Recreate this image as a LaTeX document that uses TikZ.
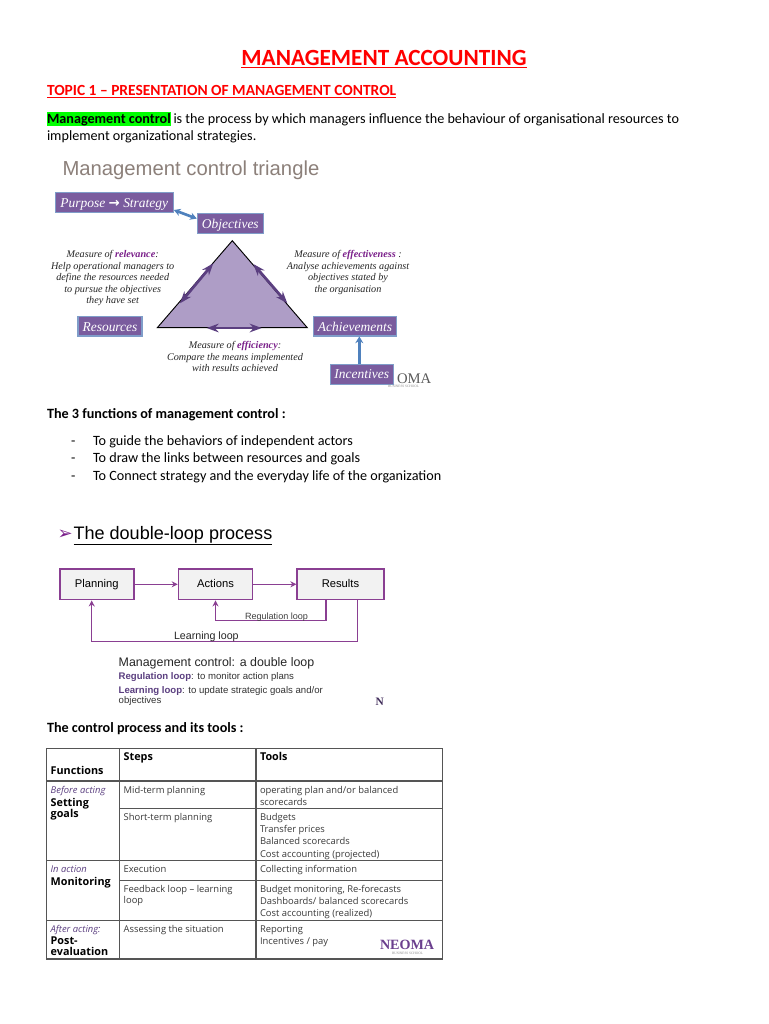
\documentclass[tikz,border=0pt]{standalone}
\usepackage{fontspec}
\setmainfont{Carlito}
\newfontfamily\seriff{Liberation Serif}
\newfontfamily\arialf{Liberation Sans}
\newfontfamily\tabf{Open Sans}
\newfontfamily\symf{DejaVu Sans}
\usetikzlibrary{arrows.meta}
\definecolor{pbox}{HTML}{7A5C9E}
\definecolor{pborder}{HTML}{7F9DC9}
\definecolor{tri}{HTML}{AE9DC6}
\definecolor{darkp}{HTML}{5B3F80}
\definecolor{mag}{HTML}{7A1F8A}
\definecolor{blueA}{HTML}{4F81BD}
\definecolor{loopc}{HTML}{8A3F92}
\definecolor{boxg}{HTML}{F2F2F2}
\definecolor{neo}{HTML}{6B3F8E}
\definecolor{gtitle}{HTML}{8C807A}
\definecolor{tabl}{HTML}{555555}
\definecolor{tabt}{HTML}{3A3A3A}
\newcommand{\rel}[1]{{\bfseries\color{mag}#1}}
\newcommand{\tl}[4]{\node[#1] (#2) at (#3) {#4};}
\tikzset{
 x=0.75pt,y=-0.75pt,
 lft/.style={anchor=base west,inner sep=0pt,outer sep=0pt},
 body/.style={lft,font=\fontsize{10.63}{12}\selectfont,text=black},
 tab/.style={lft,font=\tabf\fontsize{7.05}{8}\selectfont,text=tabt},
 tabb/.style={lft,font=\tabf\bfseries\fontsize{8.1}{9}\selectfont,text=black},
 tabi/.style={lft,font=\tabf\itshape\fontsize{7.05}{8}\selectfont,text=darkp},
 pbx/.style={fill=pbox,draw=pborder,line width=0.8pt,text=white,inner sep=0pt,text height=8pt,text depth=0.9pt,font=\seriff\itshape\fontsize{10.1}{11}\selectfont},
 meas/.style={inner sep=0pt,align=center,text=black!85,font=\seriff\itshape\fontsize{7.65}{8.7}\selectfont},
 dbl/.style={line width=2pt,draw=darkp,{Stealth[length=9pt,width=6.5pt]}-{Stealth[length=9pt,width=6.5pt]}},
 plb/.style={fill=boxg,draw=loopc,line width=1.2pt,inner sep=0pt,text height=6pt,text depth=1.6pt,font=\arialf\fontsize{8.4}{10}\selectfont},
 lp/.style={draw=loopc,line width=0.9pt,-{Stealth[length=4.5pt,width=4.5pt]}},
 dlt/.style={lft,font=\arialf\fontsize{7.2}{8}\selectfont,text=black!80},
 tline/.style={draw=tabl,line width=0.8pt},
}
\begin{document}
\begin{tikzpicture}
\useasboundingbox (0,0) rectangle (768,1024);
\fill[white] (0,0) rectangle (768,1024);
% headings
\node[anchor=base,inner sep=0pt,text=red,font=\bfseries\fontsize{17.4}{20}\selectfont] (title) at (384,65) {\underline{MANAGEMENT ACCOUNTING}};
\tl{lft,text=red,font=\bfseries\fontsize{11.6}{13}\selectfont}{topic}{47,95}{\underline{TOPIC 1 – PRESENTATION OF MANAGEMENT CONTROL}}
\node[lft,fill=green,text=black,font=\bfseries\fontsize{10.63}{12}\selectfont,text height=8.2pt,text depth=2.4pt] (mc) at (47,123) {Management control};
\tl{body}{mctext}{173.5,123}{is the process by which managers influence the behaviour of organisational resources to}
\tl{body}{mctwo}{47,140}{implement organizational strategies.}
% triangle figure
\tl{lft,text=gtitle,font=\arialf\fontsize{15.2}{17}\selectfont}{mct}{62.5,175}{Management control triangle}
\coordinate (A) at (232.3,240.7);
\coordinate (L) at (157.3,327.7);
\coordinate (R) at (307.3,327.7);
\draw[fill=tri,draw=black,line width=0.7pt] (A)--(L)--(R)--cycle;
\draw[dbl] (180,303.3)--(213.3,263.3);
\draw[dbl] (253.3,264)--(287.3,303.3);
\draw[dbl] (206.7,328)--(261.7,328);
\node[pbx,minimum width=88.5pt,minimum height=15pt] (pur) at (114.3,202.7) {Purpose {\symf\bfseries\fontsize{10}{10}\selectfont\upshape→} Strategy};
\node[pbx,minimum width=49.5pt,minimum height=15pt] (obj) at (230.3,223.3) {Objectives};
\node[pbx,minimum width=48pt,minimum height=14.5pt] (res) at (110,326.3) {Resources};
\node[pbx,minimum width=62.5pt,minimum height=14.5pt] (ach) at (355,326.3) {Achievements};
\node[pbx,minimum width=47.5pt,minimum height=14.8pt] (inc) at (361.7,374.2) {Incentives};
\draw[blueA,line width=2pt,{Stealth[length=5pt,width=5.5pt]}-{Stealth[length=5pt,width=5.5pt]}] (pur.-7)--(obj.172);
\coordinate (incup) at (359.3,364);
\draw[blueA,line width=2pt,-{Stealth[length=5pt,width=6pt]}] (incup)--(incup |- ach.south);
\node[meas] (mrel) at (112.7,278.3) {Measure of \rel{relevance}:\\Help operational managers to\\define the resources needed\\to pursue the objectives\\they have set};
\node[meas] (meff) at (348,272.3) {Measure of \rel{effectiveness} :\\Analyse achievements against\\objectives stated by\\the organisation};
\node[meas] (meffi) at (235,356.5) {Measure of \rel{efficiency}:\\Compare the means implemented\\with results achieved};
\tl{lft,text=black!65,font=\seriff\fontsize{11}{12}\selectfont}{oma}{397,383}{OMA}
\tl{lft,text=black!45,font=\seriff\fontsize{2.6}{3}\selectfont}{omas}{388,387.5}{BUSINESS SCHOOL}
% functions
\tl{lft,font=\bfseries\fontsize{10.63}{12}\selectfont}{fn}{47,418}{The 3 functions of management control :}
\tl{body}{d1}{71,445}{-}
\tl{body}{f1}{93,445}{To guide the behaviors of independent actors}
\tl{body}{d2}{71,462.5}{-}
\tl{body}{f2}{93,462.5}{To draw the links between resources and goals}
\tl{body}{d3}{71,480}{-}
\tl{body}{f3}{93,480}{To Connect strategy and the everyday life of the organization}
% double loop figure
\tl{lft,text=mag,font=\symf\fontsize{13.5}{15}\selectfont}{chev}{57.5,539.5}{➢}
\tl{lft,text=black,font=\arialf\fontsize{13.55}{15}\selectfont}{dlp}{73.5,539}{\underline{The double-loop process}}
\node[plb,minimum width=55.5pt,minimum height=23pt] (pla) at (96.7,584.3) {Planning};
\node[plb,minimum width=55.5pt,minimum height=23pt] (act) at (215.5,584.3) {Actions};
\node[plb,minimum width=65pt,minimum height=23pt] (rsl) at (340.5,584.3) {Results};
\draw[lp,line width=1.2pt] (pla)--(act);
\draw[lp,line width=1.2pt] (act)--(rsl);
\coordinate (rl) at (326,620.3);
\draw[lp] (rsl.south -| rl)--(rl)-|(act.south);
\coordinate (ll) at (357.7,641.3);
\coordinate (lq) at (91.7,641.3);
\draw[lp] (rsl.south -| ll)--(ll)--(lq)--(lq |- pla.south);
\tl{lft,font=\arialf\fontsize{6.8}{8}\selectfont,text=black!75}{rlab}{245,619}{Regulation loop}
\tl{lft,font=\arialf\fontsize{8}{9}\selectfont,text=black!85}{llab}{174,639.5}{Learning loop}
\tl{lft,font=\arialf\fontsize{9.3}{10}\selectfont,text=black!85}{mcdl}{118.7,666}{Management control: a double loop}
\tl{dlt}{rdef}{118.7,679.5}{{\bfseries\color{darkp}Regulation loop}: to monitor action plans}
\tl{dlt}{ldef}{118.7,693}{{\bfseries\color{darkp}Learning loop}: to update strategic goals and/or}
\tl{dlt}{ldef2}{118.7,703}{objectives}
\tl{lft,text=darkp!70!black,font=\seriff\bfseries\fontsize{8.5}{10}\selectfont}{nn}{375.5,705}{N}
% table
\tl{lft,font=\bfseries\fontsize{10.63}{12}\selectfont}{ctl}{47,732}{The control process and its tools :}
\draw[tline,line width=1pt] (46.7,748.3) rectangle (442.3,959);
\draw[tline] (119.3,748.3)--(119.3,959);
\draw[tline] (256,748.3)--(256,959);
\draw[tline] (46.7,781)--(442.3,781);
\draw[tline,line width=0.5pt] (119.3,808.3)--(442.3,808.3);
\draw[tline] (46.7,860.7)--(442.3,860.7);
\draw[tline,line width=0.5pt] (119.3,880.3)--(442.3,880.3);
\draw[tline] (46.7,920.3)--(442.3,920.3);
\tl{tabb}{t01}{50.7,774.3}{Functions}
\tl{tabb}{t02}{123.7,760.3}{Steps}
\tl{tabb}{t03}{260,760.3}{Tools}
\tl{tabi}{t11}{50.7,793.3}{Before acting}
\tl{tabb}{t12}{50.7,806}{Setting}
\tl{tabb}{t13}{50.7,817}{goals}
\tl{tab}{t14}{123.7,793.3}{Mid-term planning}
\tl{tab}{t15}{260,793.3}{operating plan and/or balanced}
\tl{tab}{t16}{260,805}{scorecards}
\tl{tab}{t21}{123.7,820}{Short-term planning}
\tl{tab}{t22}{260,820}{Budgets}
\tl{tab}{t23}{260,832.3}{Transfer prices}
\tl{tab}{t24}{260,844.3}{Balanced scorecards}
\tl{tab}{t25}{260,857}{Cost accounting (projected)}
\tl{tabi}{t31}{50.7,872.3}{In action}
\tl{tabb}{t32}{50.7,885}{Monitoring}
\tl{tab}{t33}{123.7,872.3}{Execution}
\tl{tab}{t34}{260,872.3}{Collecting information}
\tl{tab}{t41}{123.7,892}{Feedback loop – learning}
\tl{tab}{t42}{123.7,903.7}{loop}
\tl{tab}{t43}{260,892}{Budget monitoring, Re-forecasts}
\tl{tab}{t44}{260,904.7}{Dashboards/ balanced scorecards}
\tl{tab}{t45}{260,916.7}{Cost accounting (realized)}
\tl{tabi}{t51}{50.7,932}{After acting:}
\tl{tabb}{t52}{50.7,944}{Post-}
\tl{tabb}{t53}{50.7,955.3}{evaluation}
\tl{tab}{t54}{123.7,932}{Assessing the situation}
\tl{tab}{t55}{260,932}{Reporting}
\tl{tab}{t56}{260,944.3}{Incentives / pay}
\tl{lft,text=neo,font=\seriff\bfseries\fontsize{10.6}{12}\selectfont}{neoma}{380,949.5}{NEOMA}
\tl{lft,text=black!45,font=\seriff\fontsize{2.6}{3}\selectfont}{neos}{392,954.5}{BUSINESS SCHOOL}
\end{tikzpicture}
\end{document}
